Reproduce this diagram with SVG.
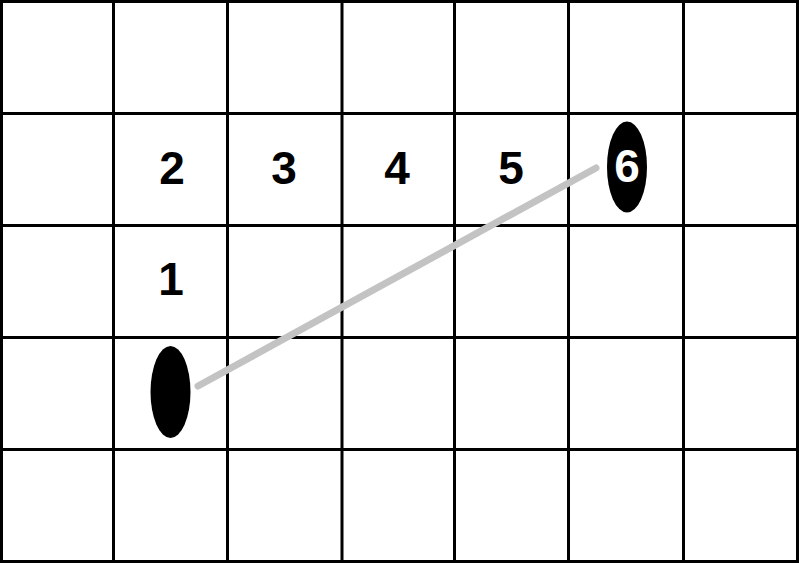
<svg xmlns="http://www.w3.org/2000/svg" width="799" height="563" viewBox="0 0 799 563">
<style>
.grid line{stroke:#000;stroke-width:3}
.num{font-family:"Liberation Sans",Arial,sans-serif;font-weight:bold;font-size:46px;text-anchor:middle;fill:#000}
.white{fill:#fff}
.conn{stroke:#c3c3c3;stroke-width:7;stroke-linecap:round;fill:none}
</style>
<rect x="0" y="0" width="799" height="563" fill="#fff"/>
<g id="grid" class="grid">
<line x1="1.5" y1="0" x2="1.5" y2="563"/>
<line x1="113.5" y1="0" x2="113.5" y2="563"/>
<line x1="227.5" y1="0" x2="227.5" y2="563"/>
<line x1="342" y1="0" x2="342" y2="563"/>
<line x1="454.5" y1="0" x2="454.5" y2="563"/>
<line x1="568.5" y1="0" x2="568.5" y2="563"/>
<line x1="683.5" y1="0" x2="683.5" y2="563"/>
<line x1="797.5" y1="0" x2="797.5" y2="563"/>
<line x1="0" y1="1.5" x2="799" y2="1.5"/>
<line x1="0" y1="113.5" x2="799" y2="113.5"/>
<line x1="0" y1="225.5" x2="799" y2="225.5"/>
<line x1="0" y1="337.5" x2="799" y2="337.5"/>
<line x1="0" y1="449.5" x2="799" y2="449.5"/>
<line x1="0" y1="561.5" x2="799" y2="561.5"/>
</g>
<g id="connectors">
<line class="conn" x1="198" y1="386" x2="596" y2="168"/>
</g>
<g id="start"><ellipse cx="170.5" cy="392" rx="20" ry="46" fill="#000"/></g>
<g id="n1"><text class="num" x="171" y="295">1</text></g>
<g id="n2"><text class="num" x="172" y="184">2</text></g>
<g id="n3"><text class="num" x="284" y="184">3</text></g>
<g id="n4"><text class="num" x="397" y="184">4</text></g>
<g id="n5"><text class="num" x="511" y="184">5</text></g>
<g id="n6"><ellipse cx="627" cy="167" rx="20" ry="45.5" fill="#000"/><text class="num white" x="627" y="182">6</text></g>
</svg>
